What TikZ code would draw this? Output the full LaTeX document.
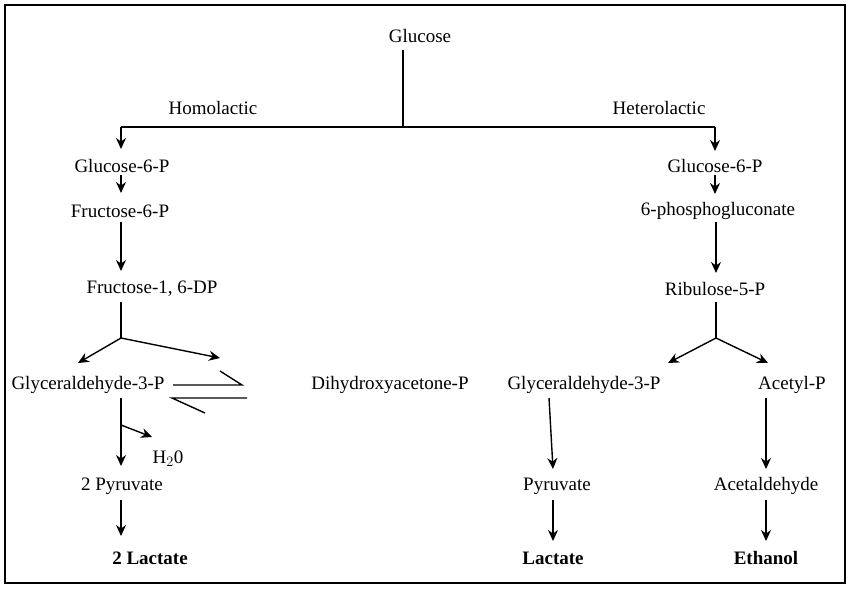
\documentclass[tikz,border=0pt]{standalone}
\usepackage{fontspec}
\setmainfont{Liberation Serif}
\usetikzlibrary{arrows.meta}
\begin{document}
\begin{tikzpicture}[x=1pt,y=-1pt,font=\fontsize{19}{21}\selectfont,
  lbl/.style={inner sep=1pt},
  bf/.style={font=\fontsize{19}{21}\selectfont\bfseries},
  arr/.style={-{Stealth[length=11pt,width=10pt]},line width=1.4pt},
  ln/.style={line width=1.4pt}]
\useasboundingbox (0,0) rectangle (850,589);
\draw[line width=1.5pt] (5,5) rectangle (845,583);
\node[lbl] (glc) at (420,36) {Glucose};
\node[lbl] (homo) at (213,108) {Homolactic};
\node[lbl] (hetero) at (659,108) {Heterolactic};
\coordinate (j) at (403,127);
\coordinate (jl) at (121,127);
\coordinate (jr) at (715,127);
\draw[ln] (403,50) -- (j);
\draw[ln] (jl) -- (jr);
% left
\node[lbl] (g6l) at (122,166) {Glucose-6-P};
\node[lbl] (f6) at (120,211) {Fructose-6-P};
\node[lbl] (f16) at (152,289) {Fructose-1, 6-DP};
\node[lbl] (ga3l) at (88,385) {Glyceraldehyde-3-P};
\node[lbl] (dhap) at (390,385) {Dihydroxyacetone-P};
\node[lbl] (h2o) at (168,459) {H$_2$0};
\node[lbl] (pyr2) at (122,486) {2 Pyruvate};
\node[lbl,bf] (lac2) at (150,558) {2 Lactate};
\draw[arr] (jl) -- (121,149);
\draw[arr] (121,175) -- (121,193);
\draw[arr] (121,222) -- (121,271);
\coordinate (fl) at (121,338);
\draw[ln] (121,302) -- (fl);
\draw[arr] (fl) -- (78,363);
\draw[arr] (fl) -- (220,358);
\draw[ln] (173,385) -- (242,385) -- (220,371);
\draw[ln] (247,398) -- (172,398) -- (205,413);
\coordinate (b) at (121,425);
\draw[arr] (121,398) -- (121,466);
\draw[arr] (b) -- (152,437);
\draw[arr] (121,500) -- (121,536);
% right
\node[lbl] (g6r) at (715,166) {Glucose-6-P};
\node[lbl] (pg) at (718,211) {6-phosphogluconate};
\node[lbl] (ru5) at (715,289) {Ribulose-5-P};
\node[lbl] (ga3r) at (584,385) {Glyceraldehyde-3-P};
\node[lbl] (acp) at (792,385) {Acetyl-P};
\node[lbl] (pyr) at (557,486) {Pyruvate};
\node[lbl] (acald) at (766,486) {Acetaldehyde};
\node[lbl,bf] (lac) at (553,558) {Lactate};
\node[lbl,bf] (eth) at (766,558) {Ethanol};
\draw[arr] (jr) -- (715,151);
\draw[arr] (715,175) -- (715,194);
\draw[arr] (716,222) -- (716,273);
\coordinate (fr) at (716,338);
\draw[ln] (716,302) -- (fr);
\draw[arr] (fr) -- (668,363);
\draw[arr] (fr) -- (768,363);
\draw[arr] (549,398) -- (553,469);
\draw[arr] (553,500) -- (553,541);
\draw[arr] (766,398) -- (766,469);
\draw[arr] (766,500) -- (766,541);
\end{tikzpicture}
\end{document}
